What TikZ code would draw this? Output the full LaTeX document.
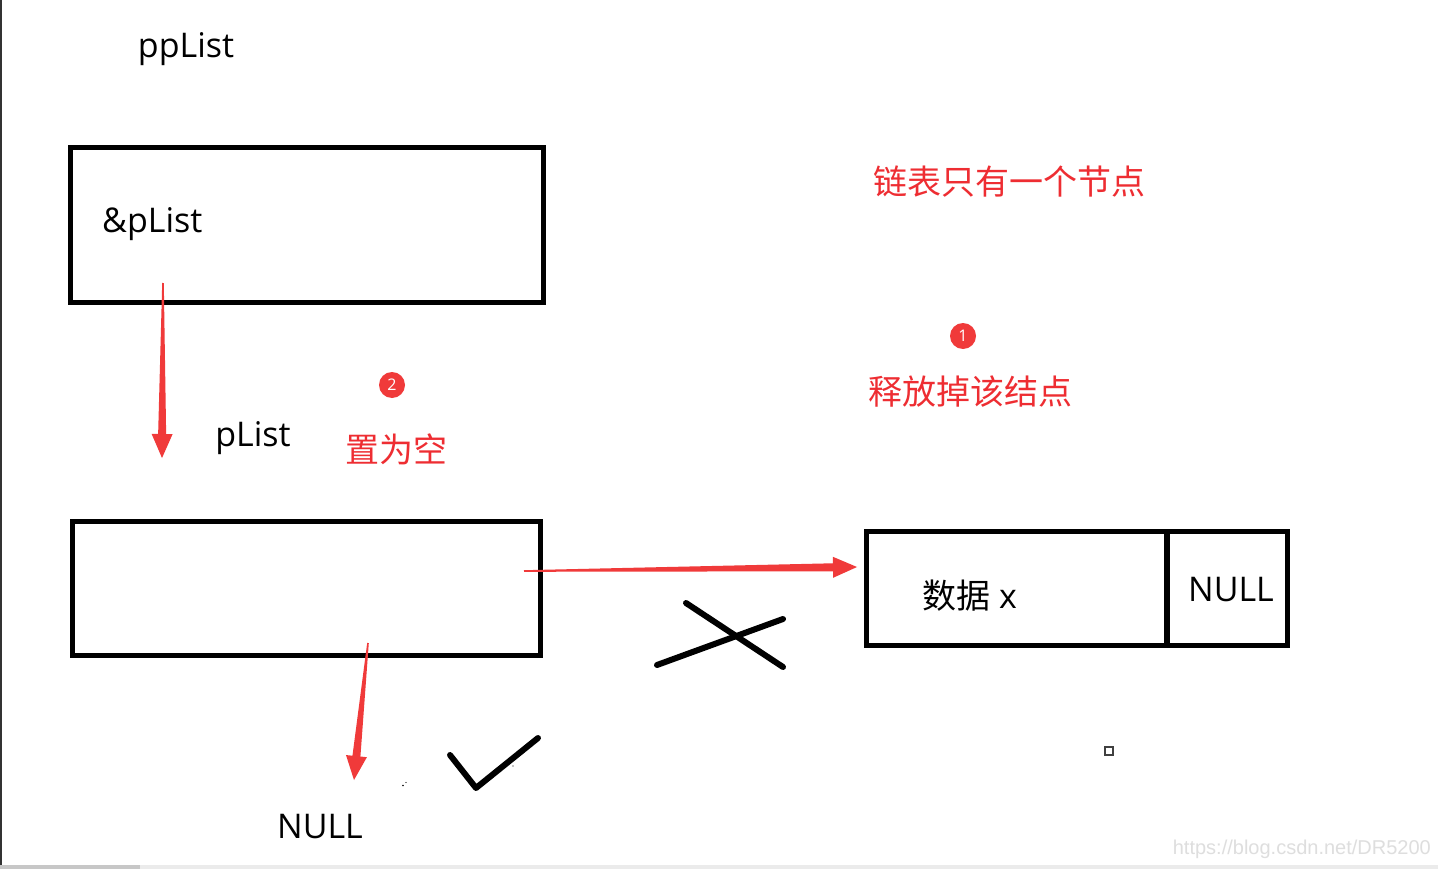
\documentclass[tikz,border=0pt]{standalone}
\usepackage{fontspec}
\setmainfont{Open Sans}
\newfontfamily\cjk{Noto Sans CJK SC}
\newfontfamily\wm{Liberation Sans}
\usetikzlibrary{calc}
\definecolor{myred}{RGB}{240,58,58}
\definecolor{txtred}{RGB}{238,45,50}
\tikzset{
  box/.style={draw=black, line width=5.5pt, inner sep=0pt},
  lbl/.style={inner sep=0pt, font=\fontsize{34}{40}\selectfont},
  cn/.style={inner sep=0pt, text=txtred, font=\cjk\fontsize{34}{40}\selectfont},
  badge/.style={circle, fill=myred, minimum size=26pt, inner sep=0pt, text=white, font=\fontsize{16}{17}\selectfont},
  penstroke/.style={line width=6pt, line cap=round, line join=round}
}
\newcommand\taparrow[2]{%
  \coordinate (hb) at ($(#2)!24pt!(#1)$);
  \fill[myred] ($(#1)!0.8pt!90:(#2)$) -- ($(hb)!4pt!90:(#2)$) -- ($(hb)!10.5pt!90:(#2)$) -- (#2)
    -- ($(hb)!10.5pt!-90:(#2)$) -- ($(hb)!4pt!-90:(#2)$) -- ($(#1)!0.8pt!-90:(#2)$) -- cycle;}
\begin{document}
\begin{tikzpicture}[x=1pt,y=-1pt]
\useasboundingbox (0,0) rectangle (1438,869);
\fill[white] (0,0) rectangle (1438,869);
% window edges
\fill[black!80] (0,0) rectangle (2,869);
\fill[black!8] (0,865) rectangle (1438,869);
\fill[black!22] (0,865) rectangle (140,869);

% texts
\node[lbl] (pplist) at (186,49) {ppList};
\node[box, minimum width=473, minimum height=155] (b1) at (307,225) {};
\node[lbl, anchor=west] (amp) at (102,224) {\&pList};
\node[lbl] (plist) at (253,438) {pList};
\node[box, minimum width=468, minimum height=134] (b2) at (306.5,588.5) {};
\node[lbl] (null1) at (320,827) {NULL};

\node[box, minimum width=300.5, minimum height=114] (data) at (1016.75,588.5) {};
\node[box, minimum width=120.5, minimum height=114] (nullc) at (1227.25,588.5) {};
\node[lbl, anchor=west] (dx) at (922,596) {{\cjk 数据} x};
\node[lbl] (null2) at (1231,590) {NULL};

\node[cn] (t1) at (1009,182) {链表只有一个节点};
\node[badge] (c1) at (963,336) {1};
\node[cn] (t2) at (970,392) {释放掉该结点};
\node[badge] (c2) at (392,385) {2};
\node[cn] (t3) at (396,449) {置为空};

% arrows
\coordinate (a1s) at (163,283);
\coordinate (a1e) at (162,458);
\taparrow{a1s}{a1e}
\coordinate (a2s) at (524,571);
\coordinate (a2e) at (857,567);
\taparrow{a2s}{a2e}
\coordinate (a3s) at (368,643);
\coordinate (a3e) at (354,780);
\taparrow{a3s}{a3e}

% cross and check
\coordinate (x1) at (686,603);
\coordinate (x2) at (783,667);
\coordinate (x3) at (657,665);
\coordinate (x4) at (783,619);
\draw[penstroke] (x1) -- (x2);
\draw[penstroke] (x3) -- (x4);
\coordinate (k1) at (450,755);
\coordinate (k2) at (476,788);
\coordinate (k3) at (538,738);
\draw[penstroke] (k1) -- (k2) -- (k3);
\fill (403,785.5) circle (0.8);
\fill (406,782.5) circle (0.6);
\fill (513,766) circle (0.6);

% small square
\node[draw=black!75, line width=1.5pt, minimum size=8pt, inner sep=0pt] (sq) at (1109,751) {};

% watermark
\node[anchor=east, inner sep=0pt, text=black!13, font=\wm\fontsize{20}{22}\selectfont] (wmk) at (1431,849) {https://blog.csdn.net/DR5200};
\end{tikzpicture}
\end{document}
